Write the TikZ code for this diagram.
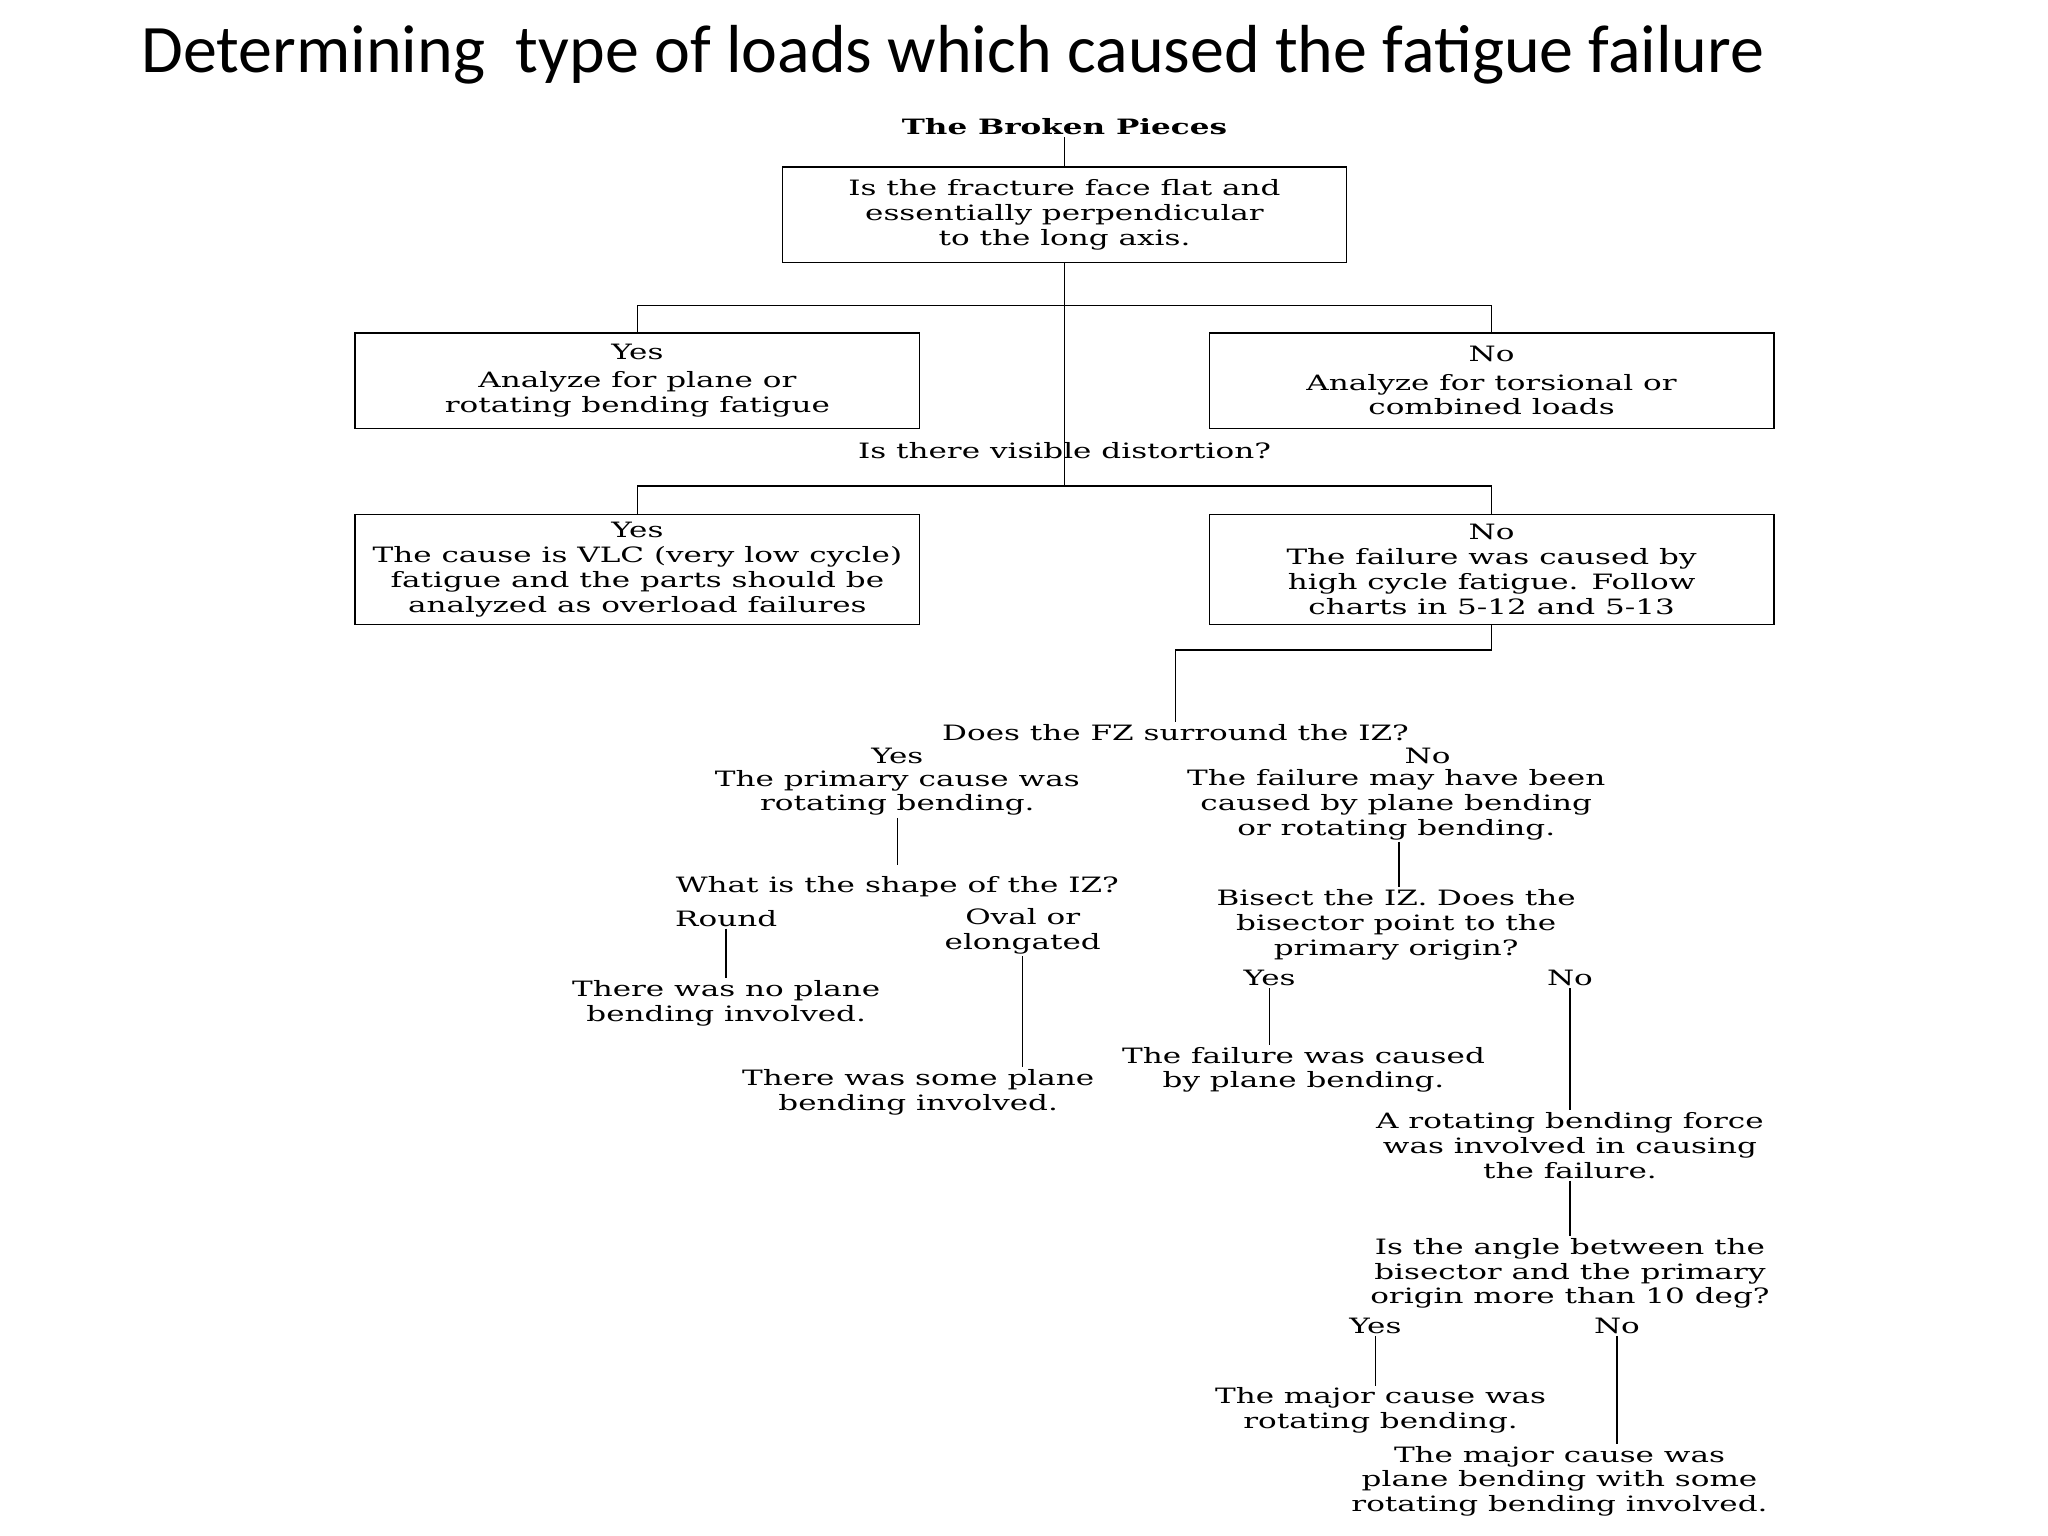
\documentclass[tikz,border=0pt]{standalone}
\usepackage{fontspec}
\setmainfont{DejaVu Serif}[FakeStretch=1.47]
\newfontfamily\titlefont{Carlito}
\usetikzlibrary{positioning}

\begin{document}
\begin{tikzpicture}[x=0.025cm, y=-0.025cm]
    \tikzstyle{txt}=[inner sep=1pt,align=center,font=\fontsize{11.5}{13.5}\selectfont]
    \tikzstyle{box}=[txt,draw,thick,minimum width=10.8cm,inner sep=0pt]
    \tikzstyle{wire}=[thick]

    \useasboundingbox (0,0) rectangle (1568,1176);
    \node[anchor=west,inner sep=0pt,font=\titlefont\fontsize{37}{42}\selectfont] (title) at (108,42) {Determining\ \ type of loads which caused the fatigue failure};

    % top of the chart
    \node[txt,font=\bfseries\fontsize{11.5}{13.5}\selectfont] (broken) at (815,97) {The Broken Pieces};
    \node[box,minimum height=1.83cm] (flat) at (815,164.5) {Is the fracture face flat and\\essentially perpendicular\\to the long axis.};
    \node[box,minimum height=1.83cm] (planeyes) at (488,291.5) {Yes\\[2pt]Analyze for plane or\\rotating bending fatigue};
    \node[box,minimum height=1.83cm] (planeno) at (1142,291.5) {No\\[2pt]Analyze for torsional or\\combined loads};
    \node[txt] (distort) at (815,345) {Is there visible distortion?};
    \node[box,minimum height=2.1cm] (vlc) at (488,436) {Yes\\The cause is VLC (very low cycle)\\fatigue and the parts should be\\analyzed as overload failures};
    \node[box,minimum height=2.1cm] (hcf) at (1142,436) {No\\The failure was caused by\\high cycle fatigue. Follow\\charts in 5-12 and 5-13};
    \coordinate (bar1) at (815,234);
    \coordinate (bar2) at (815,372);

    \draw[wire] (broken) -- (flat);
    \draw[wire] (flat.south) -- (bar2);
    \draw[wire] (planeyes.north) |- (planeno.north |- bar1) -- (planeno.north);
    \draw[wire] (vlc.north) |- (hcf.north |- bar2) -- (hcf.north);

    % left branch
    \node[txt] (fz) at (900,561) {Does the FZ surround the IZ?};
    \node[txt] (fzyes) at (687,579) {Yes};
    \node[txt] (rotprim) at (687,607) {The primary cause was\\rotating bending.};
    \node[txt] (shape) at (687,679) {What is the shape of the IZ?};
    \node[txt] (round) at (556,703) {Round};
    \node[txt] (noplane) at (556,768) {There was no plane\\bending involved.};
    \node[txt] (oval) at (783,713) {Oval or\\elongated};
    \node[txt] (someplane) at (703,836) {There was some plane\\bending involved.};

    \draw[wire] (hcf.south) -- ++(0,19) -| (fz.north);
    \draw[wire] (rotprim.south) -- ++(0,36);
    \draw[wire] (round.south) -- (noplane.north);
    \draw[wire] (oval.south) -- (oval.south |- someplane.north);

    % right branch
    \node[txt] (fzno) at (1093,579) {No};
    \node[txt] (mayhave) at (1069,616) {The failure may have been\\caused by plane bending\\or rotating bending.};
    \node[txt] (bisect) at (1069,708) {Bisect the IZ. Does the\\bisector point to the\\primary origin?};
    \node[txt] (bisyes) at (972,749) {Yes};
    \node[txt] (bisno) at (1202,749) {No};
    \node[txt] (planecause) at (998,819) {The failure was caused\\by plane bending.};
    \node[txt] (rotforce) at (1202,877) {A rotating bending force\\was involved in causing\\the failure.};
    \node[txt] (angle) at (1202,975) {Is the angle between the\\bisector and the primary\\origin more than 10 deg?};
    \node[txt] (angyes) at (1053,1015) {Yes};
    \node[txt] (angno) at (1238,1015) {No};
    \node[txt] (majrot) at (1057,1080) {The major cause was\\rotating bending.};
    \node[txt] (majplane) at (1194,1134) {The major cause was\\plane bending with some\\rotating bending involved.};

    \draw[wire] (mayhave.south -| 1071,0) -- (bisect.north -| 1071,0);
    \draw[wire] (bisyes.south) -- (bisyes.south |- planecause.north);
    \draw[wire] (bisno.south) -- (rotforce.north);
    \draw[wire] (rotforce.south) -- (angle.north);
    \draw[wire] (angyes.south) -- (angyes.south |- majrot.north);
    \draw[wire] (angno.south) -- (angno.south |- majplane.north);
\end{tikzpicture}
\end{document}
